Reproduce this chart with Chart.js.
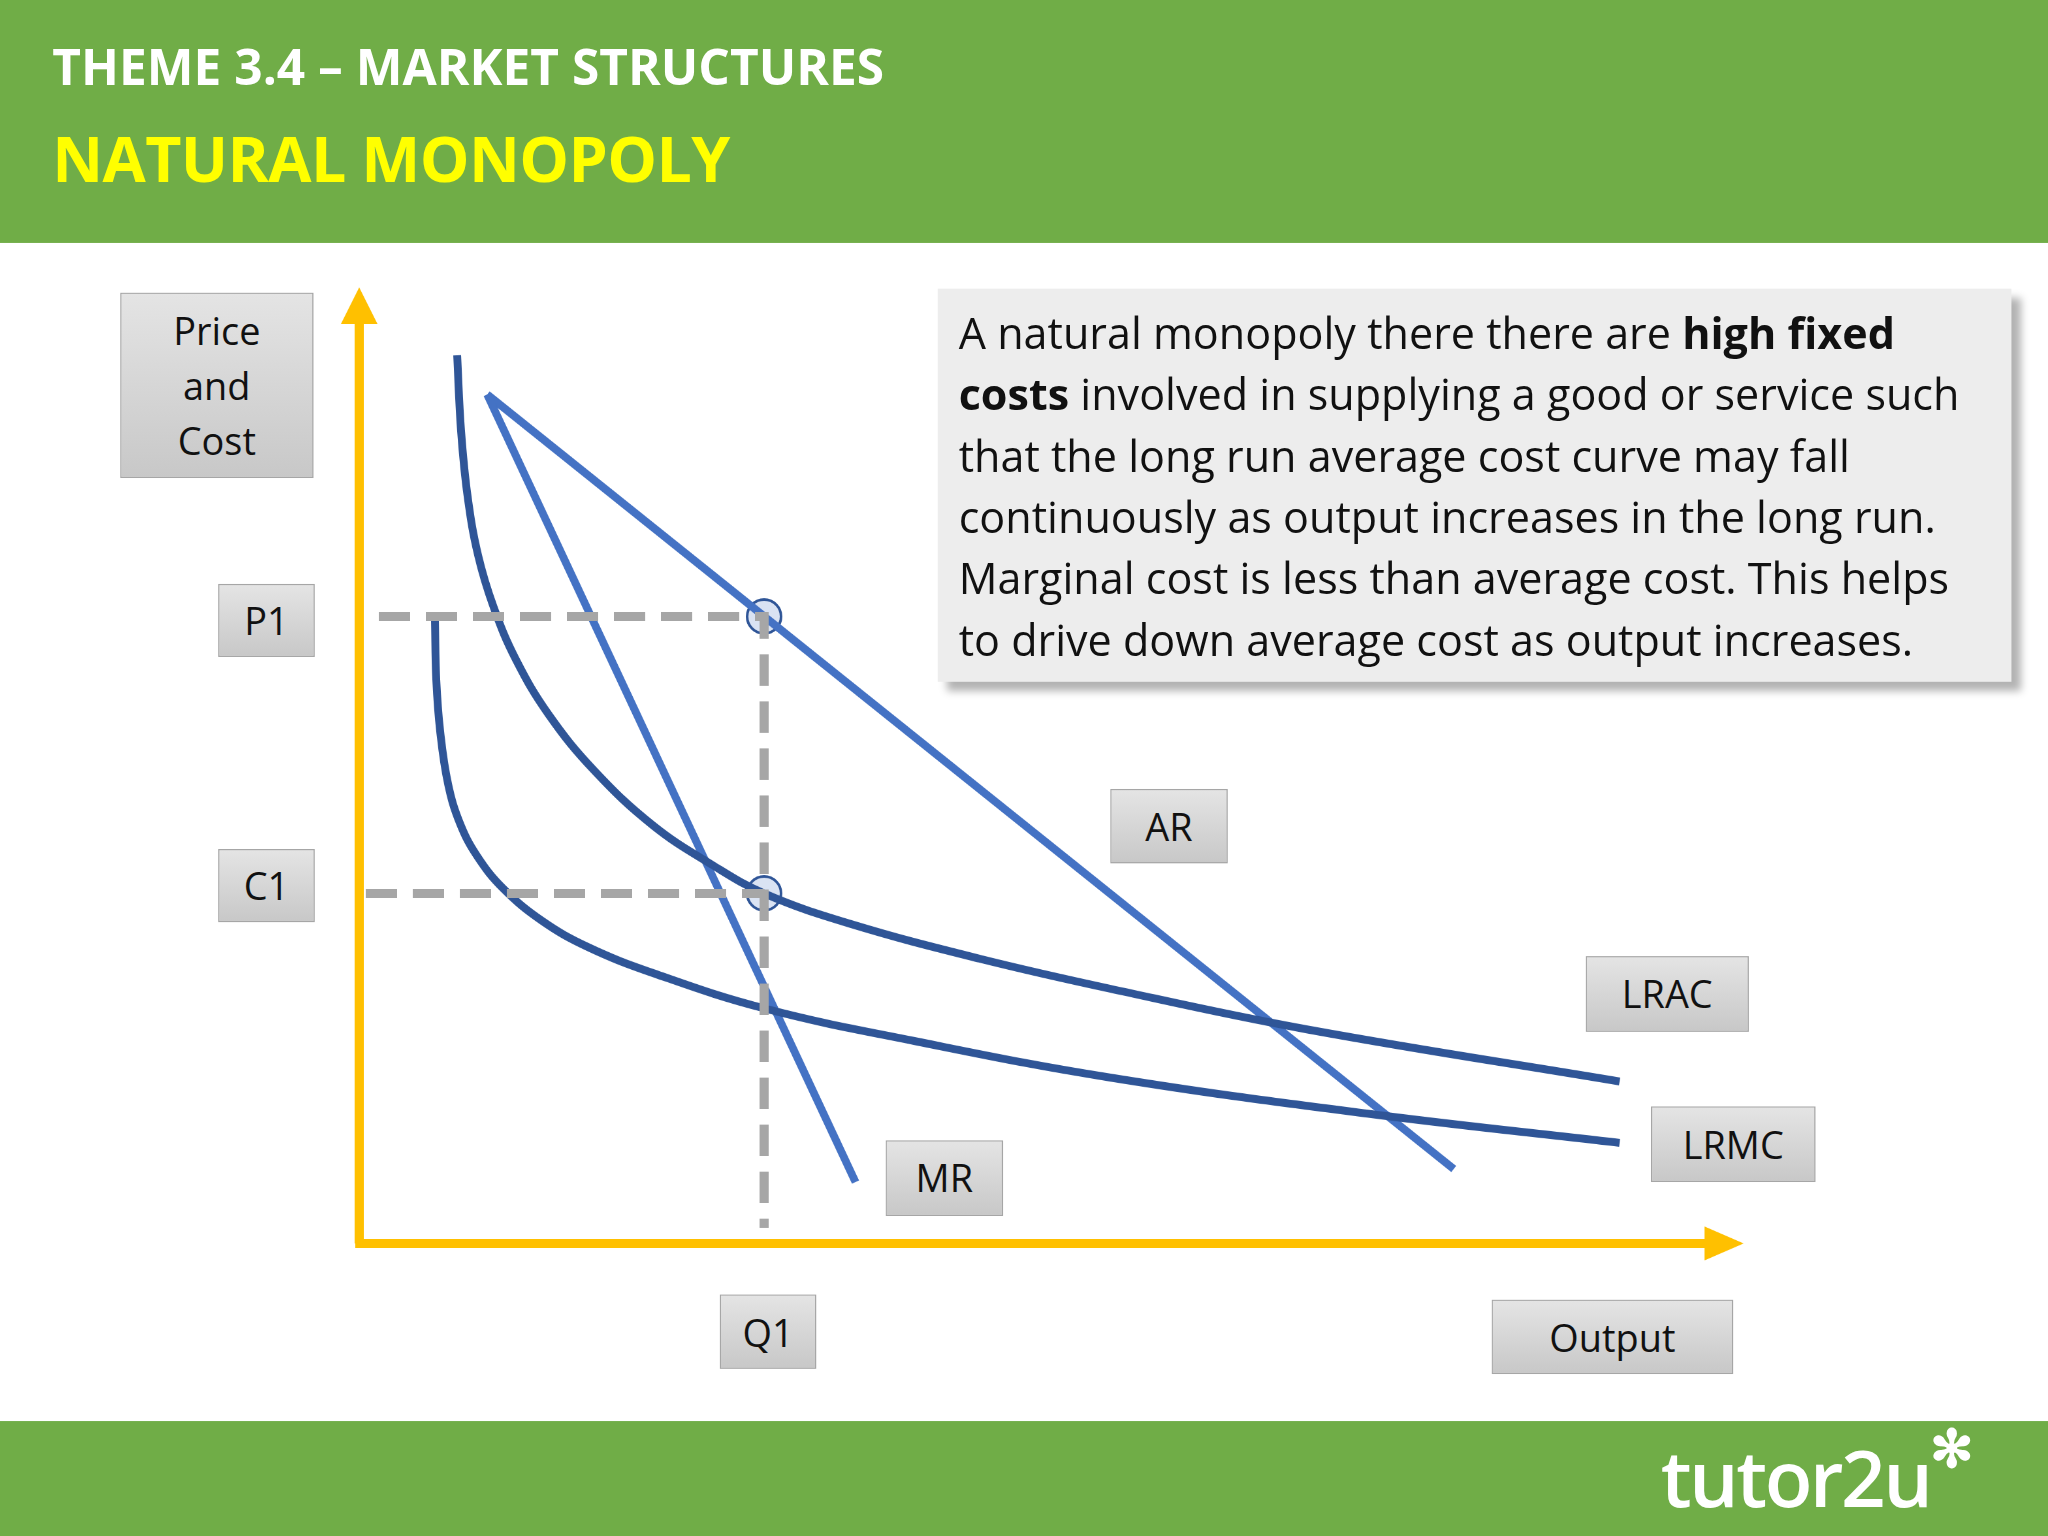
<!DOCTYPE html>
<html>
<head>
<meta charset="utf-8">
<script src="https://cdn.jsdelivr.net/npm/chart.js@4"></script>
<style>
  html, body { margin: 0; padding: 0; background: #fff; overflow: hidden; }
  #page { position: absolute; left: 0; top: 0; width: 1568px; height: 1176px;
          transform-origin: 0 0; transform: scale(1.30612); font-family: "Open Sans", sans-serif; }
  .header { position: absolute; left: 0; top: 0; width: 1568px; height: 186px; background: #70AD47; }
  .theme { position: absolute; left: 40px; top: 24px; color: #fff; font-weight: bold; font-size: 38px; letter-spacing: 0px; }
  .title { position: absolute; left: 40px; top: 88px; color: #FFFF00; font-weight: bold; font-size: 48px; letter-spacing: -0.5px; }
  .footer { position: absolute; left: 0; top: 1088px; width: 1568px; height: 88px; background: #70AD47; }
  .logo { position: absolute; right: 58px; top: 2px; color: #fff; font-size: 60px; font-weight: 600; font-family: "Open Sans", sans-serif; letter-spacing: -2px; }
  .logo sup { font-size: 40px; position: relative; top: -10px; }
  #chartWrap { position: absolute; left: 0; top: 0; width: 1568px; height: 1176px; }
  .lbl { position: absolute; box-sizing: border-box; border: 1px solid #a6a6a6;
         background: linear-gradient(#e4e4e4, #c8c8c8); color: #111; font-size: 29px;
         display: flex; align-items: center; justify-content: center; text-align: center; line-height: 42px; }
  .note { position: absolute; left: 718px; top: 221px; width: 822px; height: 301px; box-sizing: border-box;
          background: #ededed; box-shadow: 7px 7px 6px rgba(0,0,0,0.3); padding: 10px 16px;
          font-size: 33px; line-height: 47px; color: #111; letter-spacing: 0px; white-space: nowrap; }
</style>
</head>
<body>
<div id="page">
  <div class="header">
    <div class="theme">THEME 3.4 – MARKET STRUCTURES</div>
    <div class="title">NATURAL MONOPOLY</div>
  </div>
  <div id="chartWrap"><canvas id="chart" width="1568" height="1176"></canvas></div>
  <div class="lbl" style="left:92px;top:224px;width:148px;height:142px;">Price<br>and<br>Cost</div>
  <div class="lbl" style="left:167px;top:447px;width:74px;height:56px;">P1</div>
  <div class="lbl" style="left:167px;top:650px;width:74px;height:56px;">C1</div>
  <div class="lbl" style="left:850px;top:604px;width:90px;height:57px;">AR</div>
  <div class="lbl" style="left:1214px;top:732px;width:125px;height:58px;">LRAC</div>
  <div class="lbl" style="left:1264px;top:847px;width:126px;height:58px;">LRMC</div>
  <div class="lbl" style="left:678px;top:873px;width:90px;height:58px;">MR</div>
  <div class="lbl" style="left:551px;top:991px;width:74px;height:57px;">Q1</div>
  <div class="lbl" style="left:1142px;top:995px;width:185px;height:57px;">Output</div>
  <div class="note">A natural monopoly there there are <b>high fixed</b><br><b>costs</b> involved in supplying a good or service such<br>that the long run average cost curve may fall<br>continuously as output increases in the long run.<br>Marginal cost is less than average cost. This helps<br>to drive down average cost as output increases.</div>
  <div class="footer"><div class="logo">tutor2u<sup>✻</sup></div></div>
</div>
<script>
// curve data (x = output, y = price/cost)
const arPoints = [{x: 98, y: 650}, {x: 838, y: 57}];
const mrPoints = [{x: 98, y: 650}, {x: 380, y: 47}];
const lracPoints = [
  {x: 75, y: 680}, {x: 78, y: 622}, {x: 83, y: 572}, {x: 91, y: 527}, {x: 103, y: 487},
  {x: 120, y: 447}, {x: 145, y: 405}, {x: 180, y: 362}, {x: 225, y: 320}, {x: 270, y: 290},
  {x: 310, y: 268}, {x: 375, y: 245}, {x: 475, y: 218}, {x: 575, y: 195}, {x: 725, y: 164},
  {x: 965, y: 124}
];
const lrmcPoints = [
  {x: 58, y: 477}, {x: 59, y: 432}, {x: 62, y: 392}, {x: 68, y: 352}, {x: 77, y: 322},
  {x: 90, y: 297}, {x: 110, y: 272}, {x: 140, y: 247}, {x: 175, y: 227}, {x: 225, y: 207},
  {x: 310, y: 180}, {x: 425, y: 155}, {x: 575, y: 127}, {x: 775, y: 99}, {x: 965, y: 77}
];
const p1Line = [{x: 15, y: 480}, {x: 310, y: 480}, {x: 310, y: 12}];
const c1Line = [{x: 5, y: 268}, {x: 310, y: 268}];
const markers = [{x: 310, y: 480}, {x: 310, y: 268}];

// yellow axes with arrow heads
const axesPlugin = {
  id: 'axes',
  beforeDatasetsDraw(chart) {
    const {ctx, chartArea: a} = chart;
    ctx.save();
    ctx.strokeStyle = '#FFC000';
    ctx.fillStyle = '#FFC000';
    ctx.lineWidth = 7;
    ctx.beginPath();
    ctx.moveTo(a.left, a.bottom);
    ctx.lineTo(a.left, a.top + 25);
    ctx.moveTo(a.left - 3, a.bottom);
    ctx.lineTo(a.right - 28, a.bottom);
    ctx.stroke();
    ctx.beginPath();
    ctx.moveTo(a.left, a.top);
    ctx.lineTo(a.left - 14, a.top + 28);
    ctx.lineTo(a.left + 14, a.top + 28);
    ctx.fill();
    ctx.beginPath();
    ctx.moveTo(a.right, a.bottom);
    ctx.lineTo(a.right - 30, a.bottom - 13);
    ctx.lineTo(a.right - 30, a.bottom + 13);
    ctx.fill();
    ctx.restore();
  }
};

const dark = '#2F5597';
const light = '#4472C4';

new Chart(document.getElementById('chart'), {
  type: 'scatter',
  data: {
    datasets: [
      {data: p1Line, showLine: true, borderColor: '#a6a6a6', borderWidth: 7, borderDash: [24, 12], pointRadius: 0},
      {data: c1Line, showLine: true, borderColor: '#a6a6a6', borderWidth: 7, borderDash: [24, 12], pointRadius: 0},
      {data: lrmcPoints, showLine: true, borderColor: dark, borderWidth: 6, tension: 0.4, pointRadius: 0},
      {data: lracPoints, showLine: true, borderColor: dark, borderWidth: 6, tension: 0.4, pointRadius: 0},
      {data: mrPoints, showLine: true, borderColor: light, borderWidth: 6, pointRadius: 0},
      {data: arPoints, showLine: true, borderColor: light, borderWidth: 6, pointRadius: 0},
      {data: markers, showLine: false, pointRadius: 13, pointBackgroundColor: '#DAE3F3', pointBorderColor: dark, pointBorderWidth: 2}
    ]
  },
  options: {
    responsive: false,
    animation: false,
    devicePixelRatio: 2,
    layout: {padding: {left: 275, right: 233, top: 220, bottom: 224}},
    scales: {
      x: {type: 'linear', min: 0, max: 1060, display: false},
      y: {type: 'linear', min: 0, max: 732, display: false}
    },
    plugins: {legend: {display: false}, tooltip: {enabled: false}}
  },
  plugins: [axesPlugin]
});
</script>
</body>
</html>
